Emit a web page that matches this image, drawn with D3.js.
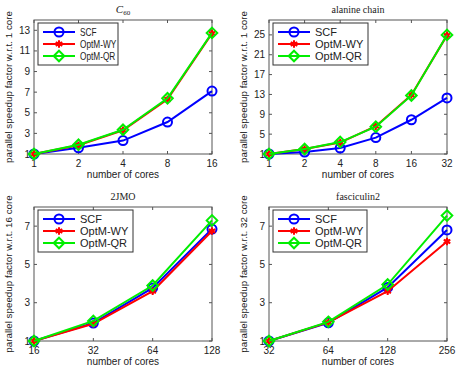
<!DOCTYPE html>
<html>
<head>
<meta charset="utf-8">
<script src="https://cdn.jsdelivr.net/npm/d3@7"></script>
<style>
  body { margin: 0; background: #fff; }
  svg text { font-family: "Liberation Sans", Arial, sans-serif; fill: #222; }
  .ttl { font-family: "Liberation Serif", "DejaVu Serif", serif; }
</style>
</head>
<body>
<div id="chart"></div>
<script>
// ---- data ----
const seriesNames = ['SCF', 'OptM-WY', 'OptM-QR'];

const coresC60 = [1, 2, 4, 8, 16];
const scfC60 = [1, 1.6, 2.3, 4.1, 7.1];
const wyC60 = [1, 1.85, 3.3, 6.3, 12.7];
const qrC60 = [1, 1.9, 3.35, 6.4, 12.75];
const yTicksC60 = [1, 3, 5, 7, 9, 11, 13];

const coresAla = [1, 2, 4, 8, 16, 32];
const scfAla = [1, 1.4, 2.2, 4.3, 7.9, 12.3];
const wyAla = [1, 2.0, 3.3, 6.6, 12.9, 24.9];
const qrAla = [1, 2.0, 3.4, 6.5, 12.8, 25];
const yTicksAla = [1, 5, 9, 13, 17, 21, 25];

const coresJmo = [16, 32, 64, 128];
const scfJmo = [1, 1.94, 3.77, 6.85];
const wyJmo = [1, 1.9, 3.6, 6.75];
const qrJmo = [1, 2.05, 3.9, 7.3];
const yTicksJmo = [1, 3, 5, 7];

const coresFas = [32, 64, 128, 256];
const scfFas = [1, 1.95, 3.8, 6.8];
const wyFas = [1, 1.97, 3.6, 6.2];
const qrFas = [1, 2.0, 3.95, 7.55];
const yTicksFas = [1, 3, 5, 7];

const panels = [
  {title: 'C60', ylab: 'parallel speedup factor w.r.t. 1 core', x: coresC60, s: [scfC60, wyC60, qrC60], yt: yTicksC60, ymax: 14,
   left: 34, top: 20, legW: 80, legSq: 0.75},
  {title: 'alanine chain', ylab: 'parallel speedup factor w.r.t. 1 core', x: coresAla, s: [scfAla, wyAla, qrAla], yt: yTicksAla, ymax: 28,
   left: 269, top: 20, legW: 95, legSq: 1},
  {title: '2JMO', ylab: 'parallel speedup factor w.r.t. 16 core', x: coresJmo, s: [scfJmo, wyJmo, qrJmo], yt: yTicksJmo, ymax: 8,
   left: 34, top: 207, legW: 95, legSq: 1},
  {title: 'fasciculin2', ylab: 'parallel speedup factor w.r.t. 32 core', x: coresFas, s: [scfFas, wyFas, qrFas], yt: yTicksFas, ymax: 8,
   left: 269, top: 207, legW: 94, legSq: 1}
];

const colors = ['#0000ff', '#ff0000', '#00ee00'];
const W = 474, H = 368, pw = 178, ph = 134;

const svg = d3.select('#chart').append('svg').attr('width', W).attr('height', H);

function marker(g, k, cx, cy) {
  if (k === 0) {
    g.append('circle').attr('cx', cx).attr('cy', cy).attr('r', 4.5)
      .attr('fill', 'none').attr('stroke', colors[0]).attr('stroke-width', 2);
  } else if (k === 1) {
    g.append('path').attr('transform', 'translate(' + cx + ',' + cy + ')')
      .attr('d', d3.symbol(d3.symbolAsterisk, 40)())
      .attr('fill', 'none').attr('stroke', colors[1]).attr('stroke-width', 2);
    g.append('circle').attr('cx', cx).attr('cy', cy).attr('r', 2.4).attr('fill', colors[1]);
  } else {
    g.append('path').attr('transform', 'translate(' + cx + ',' + cy + ')')
      .attr('d', 'M0,-5.3L5.3,0L0,5.3L-5.3,0Z')
      .attr('fill', 'none').attr('stroke', colors[2]).attr('stroke-width', 2);
  }
}

panels.forEach(p => {
  let g = svg.append('g').attr('transform', 'translate(' + p.left + ',' + p.top + ')');
  let xs = d3.scaleLog().base(2).domain(d3.extent(p.x)).range([0, pw]);
  let ys = d3.scaleLinear().domain([1, p.ymax]).range([ph, 0]);

  // box
  g.append('rect').attr('width', pw).attr('height', ph)
    .attr('fill', 'none').attr('stroke', '#555').attr('stroke-width', 1);

  // ticks (inward, on all four sides)
  p.x.forEach(v => {
    g.append('line').attr('x1', xs(v)).attr('x2', xs(v)).attr('y1', ph).attr('y2', ph - 3).attr('stroke', '#555');
    g.append('line').attr('x1', xs(v)).attr('x2', xs(v)).attr('y1', 0).attr('y2', 3).attr('stroke', '#555');
    g.append('text').attr('x', xs(v)).attr('y', ph + 13).attr('text-anchor', 'middle')
      .attr('font-size', 10).text(v);
  });
  p.yt.forEach(v => {
    g.append('line').attr('x1', 0).attr('x2', 3).attr('y1', ys(v)).attr('y2', ys(v)).attr('stroke', '#555');
    g.append('line').attr('x1', pw).attr('x2', pw - 3).attr('y1', ys(v)).attr('y2', ys(v)).attr('stroke', '#555');
    g.append('text').attr('x', -4).attr('y', ys(v) + 3.5).attr('text-anchor', 'end')
      .attr('font-size', 10).text(v);
  });

  // title
  let t = g.append('text').attr('class', 'ttl').attr('x', pw / 2).attr('y', -7)
    .attr('text-anchor', 'middle').attr('font-size', 10);
  if (p.title === 'C60') {
    t.append('tspan').attr('font-style', 'italic').attr('font-size', 11).text('C');
    t.append('tspan').attr('font-size', 7).attr('dy', 2).text('60');
  } else {
    t.text(p.title);
  }

  // axis labels
  g.append('text').attr('x', pw / 2).attr('y', ph + 24).attr('text-anchor', 'middle')
    .attr('font-size', 10).text('number of cores');
  g.append('text').attr('transform', 'translate(-22,' + (ph / 2) + ') rotate(-90)')
    .attr('text-anchor', 'middle').attr('font-size', 9.8).text(p.ylab);

  // lines + markers
  let line = d3.line().x(d => xs(d[0])).y(d => ys(d[1]));
  p.s.forEach((vals, k) => {
    let pts = p.x.map((c, i) => [c, vals[i]]);
    g.append('path').attr('d', line(pts)).attr('fill', 'none')
      .attr('stroke', colors[k]).attr('stroke-width', 2);
    pts.forEach(d => marker(g, k, xs(d[0]), ys(d[1])));
  });

  // legend
  let lg = g.append('g').attr('transform', 'translate(4,3)');
  lg.append('rect').attr('width', p.legW).attr('height', 42)
    .attr('fill', '#fff').attr('stroke', '#333').attr('stroke-width', 1);
  seriesNames.forEach((nm, k) => {
    let yy = 9 + k * 12;
    lg.append('line').attr('x1', 5).attr('x2', 37).attr('y1', yy).attr('y2', yy)
      .attr('stroke', colors[k]).attr('stroke-width', 2);
    marker(lg, k, 21, yy);
    let tx = lg.append('text').attr('x', 42).attr('y', yy + 4).attr('font-size', 11).text(nm);
    if (p.legSq !== 1) {
      let len = tx.node().getComputedTextLength();
      tx.attr('textLength', len * p.legSq).attr('lengthAdjust', 'spacingAndGlyphs');
    }
  });
});
</script>
</body>
</html>
